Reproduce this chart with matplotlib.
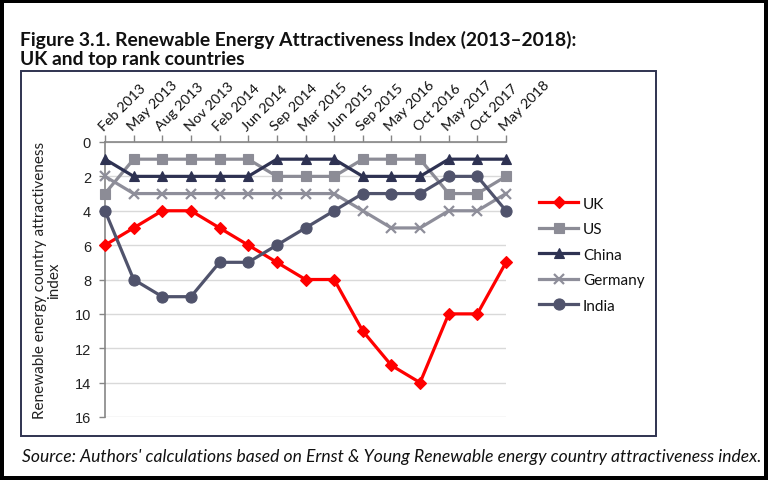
import matplotlib
matplotlib.use("Agg")
import matplotlib.pyplot as plt
from matplotlib.patches import Rectangle

dates = ["Feb 2013", "May 2013", "Aug 2013", "Nov 2013", "Feb 2014", "Jun 2014",
         "Sep 2014", "Mar 2015", "Jun 2015", "Sep 2015", "May 2016", "Oct 2016",
         "May 2017", "Oct 2017", "May 2018"]
uk = [6, 5, 4, 4, 5, 6, 7, 8, 8, 11, 13, 14, 10, 10, 7]
us = [3, 1, 1, 1, 1, 1, 2, 2, 2, 1, 1, 1, 3, 3, 2]
china = [1, 2, 2, 2, 2, 2, 1, 1, 1, 2, 2, 2, 1, 1, 1]
germany = [2, 3, 3, 3, 3, 3, 3, 3, 3, 4, 5, 5, 4, 4, 3]
india = [4, 8, 9, 9, 7, 7, 6, 5, 4, 3, 3, 3, 2, 2, 4]
y_ticks = [0, 2, 4, 6, 8, 10, 12, 14, 16]

W, H = 768, 481
fig = plt.figure(figsize=(W / 100, H / 100), dpi=100, facecolor="black")

def fx(px):
    return px / W

def fy(py):
    return 1 - py / H

# white page inside black frame
fig.patches.append(Rectangle((fx(4), fy(477)), fx(760), 473 / H, transform=fig.transFigure,
                             facecolor="white", edgecolor="none", zorder=-5))
# inner chart box
fig.patches.append(Rectangle((fx(21), fy(437)), fx(635), 365 / H, transform=fig.transFigure,
                             facecolor="none", edgecolor="#2F3350", linewidth=1.4, zorder=-4))

title_font = "Lato"
fig.text(fx(20), fy(40), "Figure 3.1. Renewable Energy Attractiveness Index (2013–2018):",
         ha="left", va="center", fontsize=13.9, fontweight="bold", family=title_font,
         color="#111111")
fig.text(fx(20), fy(60), "UK and top rank countries",
         ha="left", va="center", fontsize=13.9, fontweight="bold", family=title_font,
         color="#111111")
fig.text(fx(22), fy(457), "Source: Authors' calculations based on Ernst & Young Renewable energy country attractiveness index.",
         ha="left", va="center", fontsize=12.6, style="italic", family=title_font, color="#111111")

ax = fig.add_axes([fx(105), fy(418), fx(401), 275 / H])
ax.set_facecolor("none")
x = list(range(len(dates)))

series = [
    ("UK", uk, "#FF0000", "D", 6, "#FF0000"),
    ("US", us, "#8C8C96", "s", 7, "#8C8C96"),
    ("China", china, "#2E3252", "^", 7, "#2E3252"),
    ("Germany", germany, "#8E8E9A", "x", 7, "#8E8E9A"),
    ("India", india, "#50536C", "o", 8, "#50536C"),
]
for name, vals, col, mk, ms, mc in series:
    ax.plot(x, vals, color=col, linewidth=2.3, marker=mk, markersize=ms,
            markerfacecolor=mc, markeredgecolor=mc, markeredgewidth=1.6 if mk == "x" else 0.8,
            label=name, clip_on=False, zorder=3)

ax.set_xlim(0, len(dates) - 1)
ax.set_ylim(16, 0)
ax.set_yticks(y_ticks)
ax.set_yticklabels([str(v) for v in y_ticks], family="Liberation Sans", fontsize=10.5, color="#222222")
ax.yaxis.grid(True, color="#D9D9D9", linewidth=1.0)
ax.set_axisbelow(True)

ax.xaxis.tick_top()
ax.set_xticks(x)
ax.set_xticklabels(dates, rotation=45, ha="left", va="bottom", rotation_mode="anchor",
                   family=title_font, fontsize=10.3, color="#111111")
ax.tick_params(axis="x", length=5, color="#868686", width=1, pad=2)
ax.tick_params(axis="y", length=4, color="#868686", width=1, pad=6)

for side in ["right", "bottom"]:
    ax.spines[side].set_visible(False)
for side in ["left", "top"]:
    ax.spines[side].set_color("#868686")
    ax.spines[side].set_linewidth(1.2)

ax.set_ylabel("Renewable energy country attractiveness\nindex", family=title_font,
              fontsize=11, color="#222222", labelpad=10, linespacing=1.0)

leg = ax.legend(loc="upper left", bbox_to_anchor=(fx(525), fy(184)), bbox_transform=fig.transFigure,
                frameon=False, handlelength=2.6, handletextpad=0.3, labelspacing=0.75,
                prop={"family": title_font, "size": 11})
for t in leg.get_texts():
    t.set_color("#111111")

fig.savefig("out.png", dpi=100, facecolor="black")
